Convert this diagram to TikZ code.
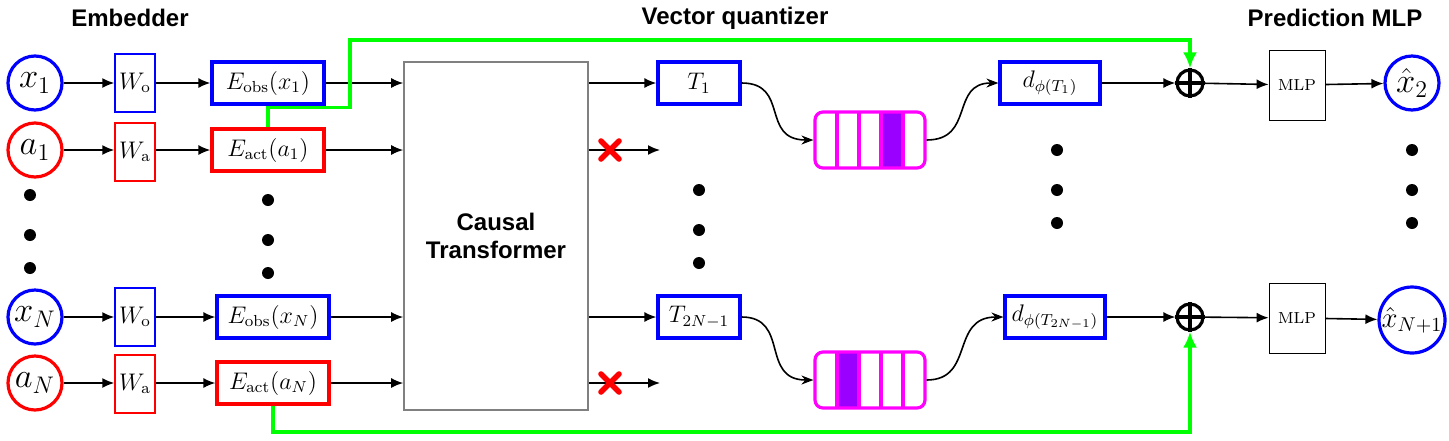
\documentclass[tikz,border=0pt]{standalone}
\usepackage{fontspec}
\setmainfont{Latin Modern Roman}
\newfontfamily\headfont{Liberation Sans}
\usetikzlibrary{positioning,arrows.meta}
\definecolor{cbline}{rgb}{1,0,1}
\definecolor{cbfill}{rgb}{0.6,0,1}
\begin{document}
\begin{tikzpicture}[x=0.5pt, y=-0.5pt,
        obs circ/.style={circle, draw=blue, line width=1.6pt, minimum size=27pt, inner sep=0pt, font=\LARGE},
        act circ/.style={circle, draw=red, line width=1.6pt, minimum size=27pt, inner sep=0pt, font=\LARGE},
        w obs/.style={draw=blue, line width=0.7pt, minimum width=20pt, minimum height=29pt, inner sep=0pt, font=\large},
        w act/.style={draw=red, line width=0.7pt, minimum width=20pt, minimum height=29pt, inner sep=0pt, font=\large},
        e obs/.style={draw=blue, line width=1.6pt, minimum width=56pt, minimum height=21pt, inner sep=1pt, font=\large},
        e act/.style={draw=red, line width=1.6pt, minimum width=56pt, minimum height=21pt, inner sep=1pt, font=\large},
        tok/.style={draw=blue, line width=1.6pt, minimum width=41pt, minimum height=21pt, inner sep=1pt, font=\large},
        code/.style={draw=blue, line width=1.6pt, minimum width=50pt, minimum height=21pt, inner sep=1pt, font=\large},
        mlp/.style={draw, thin, minimum width=28pt, minimum height=35pt, inner sep=0pt, font=\footnotesize},
        title/.style={font=\headfont\bfseries\large},
        dot/.style={circle, fill, minimum size=6pt, inner sep=0pt},
        sum/.style={circle, draw, line width=1.6pt, minimum size=13pt, inner sep=0pt},
        arr/.style={-{Latex[length=6pt,width=5pt]}, thick},
        skip/.style={draw=green, line width=1.6pt, -{Latex[length=8pt,width=7pt]}},
        cross/.style={draw=red, line width=2.8pt, line cap=round}
    ]
\useasboundingbox (0,0) rectangle (1449,440);
% titles
\node[title] (t_emb) at (130,18) {Embedder};
\node[title] (t_vq) at (735,18) {Vector quantizer};
\node[title] (t_mlp) at (1335,18) {Prediction MLP};

% inputs
\node[obs circ] (x_1) at (35,83) {$x_1$};
\node[act circ] (a_1) at (35,150) {$a_1$};
\node[obs circ] (x_N) at (35,317) {$x_N$};
\node[act circ] (a_N) at (35,383) {$a_N$};
\node[w obs] (wo_1) at (135,83) {$W_{\mathrm{o}}$};
\node[w act] (wa_1) at (135,152) {$W_{\mathrm{a}}$};
\node[w obs] (wo_N) at (135,317) {$W_{\mathrm{o}}$};
\node[w act] (wa_N) at (135,384) {$W_{\mathrm{a}}$};
\node[e obs] (e_x1) at (268,83) {$E_{\mathrm{obs}}(x_1)$};
\node[e act] (e_a1) at (268,150) {$E_{\mathrm{act}}(a_1)$};
\node[e obs] (e_xN) at (273,317) {$E_{\mathrm{obs}}(x_N)$};
\node[e act] (e_aN) at (273,383) {$E_{\mathrm{act}}(a_N)$};
\foreach \y in {195,235,268} {
    \node[dot] at (30,\y) {};
    \node[dot] at (268,\y+5) {};
    \node[dot] at (699,\y-5) {};
    \node[dot] at (1057,\y-45) {};
    \node[dot] at (1412,\y-45) {};
}
\draw[arr] (x_1) -- (wo_1);
\draw[arr] (a_1) -- (wa_1.west |- a_1);
\draw[arr] (x_N) -- (wo_N);
\draw[arr] (a_N) -- (wa_N.west |- a_N);
\draw[arr] (wo_1) -- (e_x1);
\draw[arr] (wa_1.east |- e_a1) -- (e_a1);
\draw[arr] (wo_N) -- (e_xN);
\draw[arr] (wa_N.east |- e_aN) -- (e_aN);

% transformer
\node[draw=gray, thick, minimum width=92pt, minimum height=174pt, font=\headfont\bfseries\large, align=center] (trans) at (496,236) {Causal\\Transformer};
\draw[arr] (e_x1) -- (trans.west |- e_x1);
\draw[arr] (e_a1) -- (trans.west |- e_a1);
\draw[arr] (e_xN) -- (trans.west |- e_xN);
\draw[arr] (e_aN) -- (trans.west |- e_aN);

% tokens
\node[tok] (t_1) at (699,83) {$T_1$};
\node[tok] (t_N) at (699,317) {$T_{2N-1}$};
\coordinate (o_1) at (660,150);
\coordinate (o_N) at (660,383);
\draw[arr] (trans.east |- t_1) -- (t_1);
\draw[arr] (trans.east |- t_N) -- (t_N);
\draw[arr] (trans.east |- o_1) -- (o_1);
\draw[arr] (trans.east |- o_N) -- (o_N);
\foreach \y in {150,383} {
    \draw[cross] (601,\y-9) -- (619,\y+9) (601,\y+9) -- (619,\y-9);
}

% codebooks
\foreach \n/\y/\k in {1/140/4, N/380/2} {
    \fill[cbfill] (815+22*\k-22,\y-28) rectangle (815+22*\k,\y+28);
    \foreach \i in {1,...,4} \draw[cbline, line width=1.6pt] (815+22*\i,\y-28) -- (815+22*\i,\y+28);
    \node[draw=cbline, line width=1.6pt, rounded corners=4pt, minimum width=55pt, minimum height=28pt] (cb_\n) at (870,\y) {};
}
\node[code] (d_1) at (1050,83) {$d_{\phi(T_1)}$};
\node[code] (d_N) at (1055,317) {$d_{\phi(T_{2N-1})}$};
\draw[-{Stealth[length=6pt]}, thick] (t_1.east) .. controls (790,83) and (760,140) .. (cb_1.west);
\draw[-{Stealth[length=6pt]}, thick] (cb_1.east) .. controls (975,140) and (950,83) .. (d_1.west);
\draw[-{Stealth[length=6pt]}, thick] (t_N.east) .. controls (790,317) and (760,380) .. (cb_N.west);
\draw[-{Stealth[length=6pt]}, thick] (cb_N.east) .. controls (975,380) and (950,317) .. (d_N.west);

% prediction
\node[sum] (s_1) at (1190,83) {};
\node[sum] (s_N) at (1190,317) {};
\foreach \s in {s_1,s_N} \draw[line width=1.6pt] (\s.north) -- (\s.south) (\s.west) -- (\s.east);
\node[mlp] (m_1) at (1297,85) {MLP};
\node[mlp] (m_N) at (1297,318) {MLP};
\node[obs circ] (xh_2) at (1412,83) {$\hat{x}_2$};
\node[obs circ, minimum size=30pt, font=\Large] (xh_N) at (1412,320) {$\hat{x}_{N+1}$};
\draw[arr] (d_1) -- (s_1);
\draw[arr] (d_N) -- (s_N);
\draw[arr] (s_1) -- (m_1);
\draw[arr] (s_N) -- (m_N);
\draw[arr] (m_1) -- (xh_2);
\draw[arr] (m_N) -- (xh_N);

% skip connections
\draw[skip] (e_a1.north) -- ++(0,-20) -| (350,40) -| (s_1.north);
\draw[skip] (e_aN.south) |- (600,432) -| (s_N.south);
\end{tikzpicture}
\end{document}
